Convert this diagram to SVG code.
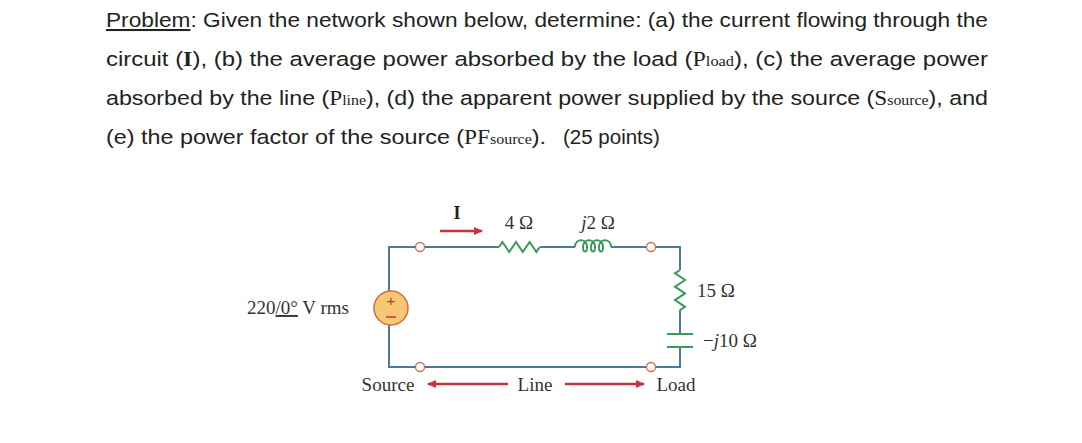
<svg xmlns="http://www.w3.org/2000/svg" width="1082" height="443" viewBox="0 0 1082 443">
<style>
.t{font-family:"Liberation Sans",Arial,sans-serif;font-size:20.5px;fill:#222}
.s{font-family:"Liberation Serif",serif}
.c{font-family:"Liberation Serif",serif;font-size:19px;fill:#333}
.w{fill:none;stroke:#4a7c9a;stroke-width:2}
.g{fill:none;stroke:#3a9a5a;stroke-width:2}
.r{stroke:#c8323a;stroke-width:2.5;fill:none}
</style>
<defs><marker id="a" markerWidth="9" markerHeight="8" refX="8" refY="4" orient="auto" markerUnits="userSpaceOnUse"><path d="M0,0L9,4L0,8z" fill="#c8323a"/></marker></defs>
<rect width="1082" height="443" fill="#fff"/>
<text class="t" x="106" y="27" textLength="882" lengthAdjust="spacingAndGlyphs"><tspan text-decoration="underline">Problem</tspan>: Given the network shown below, determine: (a) the current flowing through the</text>
<text class="t" x="106" y="66" textLength="882" lengthAdjust="spacingAndGlyphs">circuit (<tspan class="s" font-weight="bold">I</tspan>), (b) the average power absorbed by the load (<tspan class="s">P<tspan font-size="14">load</tspan></tspan>), (c) the average power</text>
<text class="t" x="106" y="105" textLength="882" lengthAdjust="spacingAndGlyphs">absorbed by the line (<tspan class="s">P<tspan font-size="14">line</tspan></tspan>), (d) the apparent power supplied by the source (<tspan class="s">S<tspan font-size="14">source</tspan></tspan>), and</text>
<text class="t" x="106" y="144" textLength="440" lengthAdjust="spacingAndGlyphs">(e) the power factor of the source (<tspan class="s">PF<tspan font-size="14">source</tspan></tspan>).</text>
<text class="t" x="563" y="144">(25 points)</text>
<g id="connectors">
<path class="w" d="M415,247H389V291M389,325V367H415M425,367H646M656,367H680V347M680,334V310M680,270V247H656M646,247H611M575,247H540M499,247H425"/>
<path class="r" d="M440,231H482" marker-end="url(#a)"/>
<path class="r" d="M508,384H428" marker-end="url(#a)"/>
<path class="r" d="M565,384H644" marker-end="url(#a)"/>
</g>
<text x="457" y="219" font-family="Liberation Serif,serif" font-size="18" font-weight="bold" fill="#222" text-anchor="middle">I</text>
<g id="source"><circle cx="391" cy="308" r="17" fill="#f7c873" stroke="#d86a4a" stroke-width="1.5"/>
<text x="391" y="306" font-family="Liberation Sans,sans-serif" font-size="15" fill="#c8323a" text-anchor="middle">+</text>
<path d="M386,317H396" stroke="#c8323a" stroke-width="1.5"/>
<text class="c" x="247" y="314">220<tspan text-decoration="underline">/0°</tspan> V rms</text></g>
<g id="terminals" fill="#fff" stroke="#d86a4a" stroke-width="1.3">
<circle cx="420" cy="247" r="4.5"/><circle cx="651" cy="247" r="4.5"/><circle cx="420" cy="367" r="4.5"/><circle cx="651" cy="367" r="4.5"/></g>
<g id="r4"><path class="g" d="M499,247l3.4,-5l6.8,10l6.8,-10l6.8,10l6.8,-10l6.8,10l3.4,-5"/><text class="c" x="519" y="229" text-anchor="middle">4 Ω</text></g>
<g id="l2"><path class="g" d="M575,247c0,-9 12,-9 12,0c0,6 -4,6 -4,0c0,-9 12,-9 12,0c0,6 -4,6 -4,0c0,-9 12,-9 12,0c0,6 -4,6 -4,0c0,-9 12,-9 12,0"/><text class="c" x="598" y="229" text-anchor="middle"><tspan font-style="italic">j</tspan>2 Ω</text></g>
<g id="r15"><path class="g" d="M680,270l-5,3.3l10,6.7l-10,6.7l10,6.7l-10,6.7l10,6.7l-5,3.2"/><text class="c" x="697" y="297">15 Ω</text></g>
<g id="cap"><path class="g" d="M667,334H693M667,347H693"/><text class="c" x="703" y="347">−<tspan font-style="italic">j</tspan>10 Ω</text></g>
<text class="c" x="388" y="391" text-anchor="middle">Source</text>
<text class="c" x="535" y="391" text-anchor="middle">Line</text>
<text class="c" x="676" y="391" text-anchor="middle">Load</text>
</svg>
